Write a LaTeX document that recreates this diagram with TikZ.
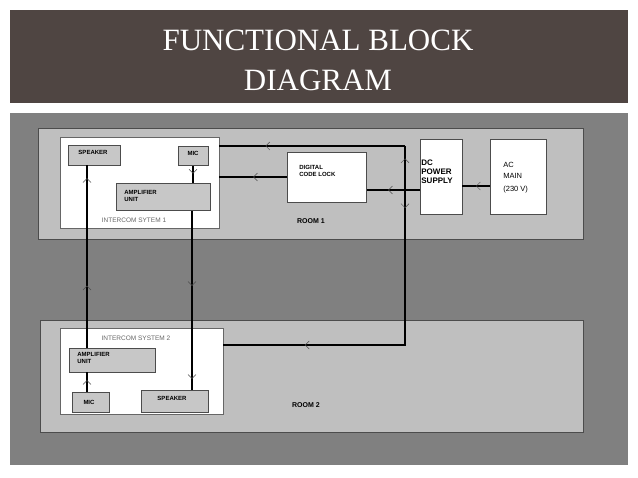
\documentclass[tikz,border=0pt]{standalone}
\usepackage{fontspec}
\setmainfont{Liberation Serif}
\newfontfamily\boxfont{Liberation Sans}
\usetikzlibrary{arrows.meta,decorations.markings}
\definecolor{titlebg}{rgb}{.31,.27,.26}
\definecolor{panel}{rgb}{.5,.5,.5}
\definecolor{room}{rgb}{.75,.75,.75}
\definecolor{unit}{rgb}{.78,.78,.78}

\tikzset{
	blk/.style = {draw=black!70, fill=unit, line width=.8pt, inner sep=2pt, align=left,
		font=\boxfont\bfseries\fontsize{6}{7}\selectfont},
	lbl/.style = {blk, draw=none, fill=none},
	wire/.style = {line width=1.3pt},
	mid/.style = {postaction={decorate, decoration={markings,
		mark=at position #1 with {\arrow[line width=.5pt, black!70]{Straight Barb[length=4pt,width=8pt]}}}}}
}

\begin{document}
\begin{tikzpicture}[x=1pt, y=-1pt]
	\useasboundingbox (0,0) rectangle (638,478);
	\fill[white] (0,0) rectangle (638,478);
	\fill[titlebg] (10,10) rectangle (628,103);
	\fill[panel] (10,113) rectangle (628,465);

	\node[white, font=\fontsize{31}{40}\selectfont, align=center] (title) at (318,60) {FUNCTIONAL BLOCK\\DIAGRAM};

	% rooms
	\draw[black!70, fill=room] (38,128) rectangle (583,239);
	\draw[black!70, fill=room] (40,320) rectangle (583,432);
	\draw[black!60, fill=white] (60,137) rectangle (219,228);
	\draw[black!60, fill=white] (60,328) rectangle (223,414);

	\node[font=\boxfont\bfseries\fontsize{7}{8}\selectfont] (room1) at (311,221) {ROOM 1};
	\node[font=\boxfont\bfseries\fontsize{7}{8}\selectfont] (room2) at (306,405) {ROOM 2};
	\node[black!60, font=\boxfont\fontsize{6.5}{7}\selectfont] (ic1) at (134,220) {INTERCOM SYTEM 1};
	\node[black!60, font=\boxfont\fontsize{6.5}{7}\selectfont] (ic2) at (136,338) {INTERCOM SYSTEM 2};

	% room 1 units
	\node[blk, minimum width=52pt, minimum height=20pt] (spk1) at (94,155) {};
	\node[lbl] at (93,152) {SPEAKER};
	\node[blk, minimum width=30pt, minimum height=19pt] (mic1) at (193,156) {};
	\node[lbl] at (193,153) {MIC};
	\node[blk, minimum width=94pt, minimum height=27pt] (amp1) at (163,197) {};
	\node[lbl, anchor=west] at (122,196) {AMPLIFIER\\UNIT};
	\node[blk, fill=white, minimum width=79pt, minimum height=50pt] (lock) at (327,177) {};
	\node[lbl, anchor=west] at (297,171) {DIGITAL\\CODE LOCK};
	\node[blk, fill=white, minimum width=42pt, minimum height=75pt] (dc) at (441,177) {};
	\node[lbl, anchor=west, font=\boxfont\bfseries\fontsize{8}{9}\selectfont] at (419,172) {DC\\POWER\\SUPPLY};
	\node[blk, fill=white, minimum width=56pt, minimum height=75pt] (ac) at (518,177) {};
	\node[lbl, anchor=west, font=\boxfont\fontsize{7.5}{11}\selectfont] at (501,178) {AC\\MAIN\\[2pt](230 V)};

	% room 2 units
	\node[blk, minimum width=86pt, minimum height=24pt] (amp2) at (112,360) {};
	\node[lbl, anchor=west] at (75,358) {AMPLIFIER\\UNIT};
	\node[blk, minimum width=37pt, minimum height=20pt] (mic2) at (91,402) {};
	\node[lbl] at (89,402) {MIC};
	\node[blk, minimum width=67pt, minimum height=22pt] (spk2) at (175,401) {};
	\node[lbl] at (172,398) {SPEAKER};

	\coordinate (t1) at (219,146);
	\coordinate (c1) at (405,146);
	\coordinate (c2) at (405,345);
	\coordinate (t2) at (223,345);
	\coordinate (l1) at (219,177);
	\coordinate (d1) at (420,190);
	\coordinate (up) at (405,155);
	\coordinate (dn) at (405,210);

	% wires
	\draw[wire] (c1) -- (c2) -- (t2);
	\draw[wire, mid=.75] (c1) -- (t1);
	\path[mid=.9] (d1 -| c1) -- (up);
	\path[mid=.9] (d1 -| c1) -- (dn);
	\draw[wire, mid=.55] (c2) -- (t2);
	\draw[wire, mid=.5] (lock.west) -- (l1);
	\draw[wire, mid=.6] (d1) -- (lock.east |- d1);
	\draw[line width=2.2pt, mid=.5] (ac.west |- 0,186) -- (dc.east |- 0,186);
	\draw[wire, mid=.45] (mic1.south) -- (amp1.north -| mic1);
	\draw[wire, mid=.34, mid=.93] (amp2.north -| 87,0) -- (spk1.south -| 87,0);
	\draw[wire, mid=.42, mid=.94] (amp1.south -| 192,0) -- (spk2.north -| 192,0);
	\draw[wire, mid=.6] (mic2.north -| 87,0) -- (amp2.south -| 87,0);
\end{tikzpicture}
\end{document}
